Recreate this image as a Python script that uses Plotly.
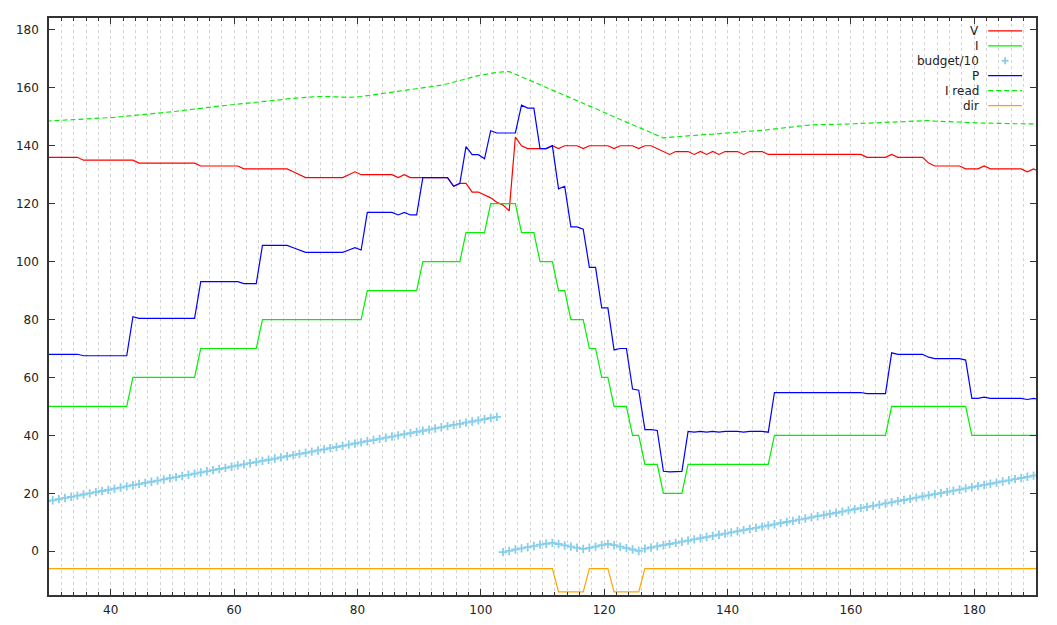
import plotly.graph_objects as go

# sample clock (one log sample per second, offset 0.6)
t = [n + 0.6 for n in range(29, 191)]

# V (volts) samples 29..190
V = [136,
     136, 136, 136, 136, 136, 135, 135, 135, 135, 135,
     135, 135, 135, 135, 134, 134, 134, 134, 134, 134,
     134, 134, 134, 134, 133, 133, 133, 133, 133, 133,
     133, 132, 132, 132, 132, 132, 132, 132, 132, 131,
     130, 129, 129, 129, 129, 129, 129, 129, 130, 131,
     130, 130, 130, 130, 130, 130, 129, 130, 129, 129,
     129, 129, 129, 129, 129, 126, 127, 127, 124, 124,
     123, 122, 120.5, 119.5, 117.5, 143, 140, 139, 139, 139,
     139, 140, 139, 140, 140, 140, 139, 140, 140, 140,
     140, 139, 140, 140, 140, 139, 140, 140, 139, 138,
     137, 138, 138, 138, 137, 138, 137, 138, 137, 138,
     138, 138, 137, 138, 138, 138, 137, 137, 137, 137,
     137, 137, 137, 137, 137, 137, 137, 137, 137, 137,
     137, 137, 136, 136, 136, 136, 137, 136, 136, 136,
     136, 136, 134, 133, 133, 133, 133, 133, 132, 132,
     132, 133, 132, 132, 132, 132, 132, 132, 131, 132,
     131]

# I (set current)
I = [50,
     50, 50, 50, 50, 50, 50, 50, 50, 50, 50,
     50, 50, 50, 60, 60, 60, 60, 60, 60, 60,
     60, 60, 60, 60, 70, 70, 70, 70, 70, 70,
     70, 70, 70, 70, 80, 80, 80, 80, 80, 80,
     80, 80, 80, 80, 80, 80, 80, 80, 80, 80,
     80, 90, 90, 90, 90, 90, 90, 90, 90, 90,
     100, 100, 100, 100, 100, 100, 100, 110, 110, 110,
     110, 120, 120, 120, 120, 120, 110, 110, 110, 100,
     100, 100, 90, 90, 80, 80, 80, 70, 70, 60,
     60, 50, 50, 50, 40, 40, 30, 30, 30, 20,
     20, 20, 20, 30, 30, 30, 30, 30, 30, 30,
     30, 30, 30, 30, 30, 30, 30, 40, 40, 40,
     40, 40, 40, 40, 40, 40, 40, 40, 40, 40,
     40, 40, 40, 40, 40, 40, 50, 50, 50, 50,
     50, 50, 50, 50, 50, 50, 50, 50, 50, 40,
     40, 40, 40, 40, 40, 40, 40, 40, 40, 40,
     40]

# budget/10
budget = [17.2,
          17.6, 18.0, 18.4, 18.8, 19.2, 19.6, 20.0, 20.4, 20.8, 21.2,
          21.6, 22.0, 22.4, 22.8, 23.2, 23.6, 24.0, 24.4, 24.8, 25.2,
          25.6, 26.0, 26.4, 26.8, 27.2, 27.6, 28.0, 28.4, 28.8, 29.2,
          29.6, 30.0, 30.4, 30.8, 31.2, 31.6, 32.0, 32.4, 32.8, 33.2,
          33.6, 34.0, 34.4, 34.8, 35.2, 35.6, 36.0, 36.4, 36.8, 37.2,
          37.6, 38.0, 38.4, 38.8, 39.2, 39.6, 40.0, 40.4, 40.8, 41.2,
          41.6, 42.0, 42.4, 42.8, 43.2, 43.6, 44.0, 44.4, 44.8, 45.2,
          45.6, 46.0, 46.4, -0.3, 0.1, 0.6, 1.0, 1.4, 1.8, 2.3,
          2.6, 2.9, 2.5, 2.0, 1.6, 1.2, 0.8, 1.2, 1.6, 2.1,
          2.5, 2.1, 1.6, 1.1, 0.6, 0.1, 0.9, 1.3, 1.7, 2.1,
          2.5, 2.9, 3.3, 3.7, 4.1, 4.5, 4.9, 5.3, 5.7, 6.1,
          6.5, 6.9, 7.3, 7.7, 8.1, 8.5, 8.9, 9.3, 9.7, 10.1,
          10.5, 10.9, 11.3, 11.7, 12.1, 12.5, 12.9, 13.3, 13.7, 14.1,
          14.5, 14.9, 15.3, 15.7, 16.1, 16.5, 16.9, 17.3, 17.7, 18.1,
          18.5, 18.9, 19.3, 19.7, 20.1, 20.5, 20.9, 21.3, 21.7, 22.1,
          22.5, 22.9, 23.3, 23.7, 24.1, 24.5, 24.9, 25.3, 25.7, 26.1,
          26.5]

# P (power)
P = [68,
     68, 68, 68, 68, 68, 67.5, 67.5, 67.5, 67.5, 67.5,
     67.5, 67.5, 67.5, 81, 80.4, 80.4, 80.4, 80.4, 80.4, 80.4,
     80.4, 80.4, 80.4, 80.4, 93.1, 93.1, 93.1, 93.1, 93.1, 93.1,
     93.1, 92.4, 92.4, 92.4, 105.6, 105.6, 105.6, 105.6, 105.6, 104.8,
     104, 103.2, 103.2, 103.2, 103.2, 103.2, 103.2, 103.2, 104, 104.8,
     104, 117, 117, 117, 117, 117, 116.1, 117, 116.1, 116.1,
     129, 129, 129, 129, 129, 126, 127, 139.7, 136.9, 136.9,
     135.5, 145.2, 144.4, 144.4, 144.4, 144.4, 154, 153, 153, 139,
     139, 140, 125.1, 126, 112, 112, 111.2, 98, 98, 84,
     84, 69.5, 70, 70, 56, 55.6, 42, 42, 41.7, 27.6,
     27.4, 27.6, 27.6, 41.4, 41.1, 41.4, 41.1, 41.4, 41.1, 41.4,
     41.4, 41.4, 41.1, 41.4, 41.4, 41.4, 41.1, 54.8, 54.8, 54.8,
     54.8, 54.8, 54.8, 54.8, 54.8, 54.8, 54.8, 54.8, 54.8, 54.8,
     54.8, 54.8, 54.4, 54.4, 54.4, 54.4, 68.5, 68, 68, 68,
     68, 68, 67, 66.5, 66.5, 66.5, 66.5, 66.5, 66, 52.8,
     52.8, 53.2, 52.8, 52.8, 52.8, 52.8, 52.8, 52.8, 52.4, 52.8,
     52.4]

# I read (measured current, smoothed)
I_read = [148.5,
          148.6, 148.7, 148.8, 148.9, 149.0, 149.2, 149.4, 149.5, 149.6, 149.7,
          149.8, 150.0, 150.2, 150.3, 150.5, 150.7, 150.9, 151.1, 151.4, 151.7,
          151.9, 152.1, 152.4, 152.7, 152.9, 153.1, 153.4, 153.7, 153.9, 154.1,
          154.3, 154.5, 154.8, 155.0, 155.2, 155.4, 155.7, 155.9, 156.2, 156.4,
          156.6, 156.8, 156.9, 157.0, 157.0, 157.0, 156.9, 156.8, 156.7, 156.8,
          157.0, 157.3, 157.6, 157.9, 158.1, 158.4, 158.7, 158.9, 159.2, 159.5,
          159.8, 160.1, 160.5, 160.9, 161.4, 162.0, 162.6, 163.2, 163.7, 164.2,
          164.6, 165.0, 165.3, 165.5, 165.6, 164.7, 163.8, 162.9, 161.9, 161.0,
          160.1, 159.2, 158.3, 157.4, 156.4, 155.5, 154.6, 153.7, 152.8, 151.9,
          150.9, 150.0, 149.1, 148.2, 147.3, 146.4, 145.4, 144.5, 143.6, 142.7,
          142.9, 143.1, 143.3, 143.4, 143.6, 143.7, 143.9, 144.0, 144.2, 144.3,
          144.5, 144.7, 144.8, 145.0, 145.2, 145.3, 145.5, 145.7, 145.9, 146.2,
          146.5, 146.8, 147.1, 147.2, 147.3, 147.3, 147.4, 147.4, 147.5, 147.5,
          147.6, 147.7, 147.8, 147.9, 148.0, 148.1, 148.2, 148.3, 148.4, 148.5,
          148.7, 148.8, 148.7, 148.5, 148.4, 148.2, 148.1, 148.0, 147.9, 147.9,
          147.8, 147.8, 147.8, 147.7, 147.7, 147.7, 147.6, 147.6, 147.6, 147.6,
          147.5]

# dir
dir_ = [-6,
        -6, -6, -6, -6, -6, -6, -6, -6, -6, -6,
        -6, -6, -6, -6, -6, -6, -6, -6, -6, -6,
        -6, -6, -6, -6, -6, -6, -6, -6, -6, -6,
        -6, -6, -6, -6, -6, -6, -6, -6, -6, -6,
        -6, -6, -6, -6, -6, -6, -6, -6, -6, -6,
        -6, -6, -6, -6, -6, -6, -6, -6, -6, -6,
        -6, -6, -6, -6, -6, -6, -6, -6, -6, -6,
        -6, -6, -6, -6, -6, -6, -6, -6, -6, -6,
        -6, -6, -14, -14, -14, -14, -14, -6, -6, -6,
        -6, -14, -14, -14, -14, -14, -6, -6, -6, -6,
        -6, -6, -6, -6, -6, -6, -6, -6, -6, -6,
        -6, -6, -6, -6, -6, -6, -6, -6, -6, -6,
        -6, -6, -6, -6, -6, -6, -6, -6, -6, -6,
        -6, -6, -6, -6, -6, -6, -6, -6, -6, -6,
        -6, -6, -6, -6, -6, -6, -6, -6, -6, -6,
        -6, -6, -6, -6, -6, -6, -6, -6, -6, -6,
        -6]

labels = ['V', 'I', 'budget/10', 'P', 'I read', 'dir']
colors = ['#ff0000', '#00f000', '#87ceeb', '#0000ff', '#00f000', '#ffa500']

FONT = dict(family='DejaVu Sans', size=12, color='#222222')
# page body keeps its default 8px margin, so the figure is 8px smaller
OFF = 8
W, H = 1057 - OFF, 625 - OFF
ML, MR, MT, MB = 46 - OFF, 21, 16 - OFF, 29

fig = go.Figure()
fig.add_trace(go.Scatter(x=t, y=V, mode='lines', line=dict(color=colors[0], width=1.2)))
fig.add_trace(go.Scatter(x=t, y=I, mode='lines', line=dict(color=colors[1], width=1.2)))
fig.add_trace(go.Scatter(x=t, y=budget, mode='markers',
                         marker=dict(symbol='cross-thin', size=6, color=colors[2],
                                     line=dict(color=colors[2], width=1.8))))
fig.add_trace(go.Scatter(x=t, y=P, mode='lines', line=dict(color=colors[3], width=1.2)))
fig.add_trace(go.Scatter(x=t, y=I_read, mode='lines', line=dict(color=colors[4], width=1.2, dash='5px,3px')))
fig.add_trace(go.Scatter(x=t, y=dir_, mode='lines', line=dict(color=colors[5], width=1.2)))


# gnuplot style key: label on the left, sample on the right (window pixels)
def px_x(p):
    return (p - OFF - ML) / (W - ML - MR)


def px_y(p):
    return (H + OFF - MB - p) / (H - MT - MB)


shapes = []
annotations = []
for k, name in enumerate(labels):
    yy = px_y(29 + 15 * k)
    annotations.append(dict(x=px_x(981), y=yy, xref='paper', yref='paper', text=name,
                            showarrow=False, xanchor='right', yanchor='middle', font=FONT))
    if name == 'budget/10':
        shapes.append(dict(type='line', xref='paper', yref='paper',
                           x0=px_x(1001.5), x1=px_x(1008.5), y0=yy, y1=yy,
                           line=dict(color=colors[k], width=1.8)))
        shapes.append(dict(type='line', xref='paper', yref='paper',
                           x0=px_x(1005), x1=px_x(1005), y0=yy - 3.5 / (H - MT - MB),
                           y1=yy + 3.5 / (H - MT - MB), line=dict(color=colors[k], width=1.8)))
    else:
        shapes.append(dict(type='line', xref='paper', yref='paper',
                           x0=px_x(988), x1=px_x(1022), y0=yy, y1=yy,
                           line=dict(color=colors[k], width=1.2,
                                     dash='5px,3px' if name == 'I read' else 'solid')))

fig.update_layout(width=W, height=H, margin=dict(l=ML, r=MR, t=MT, b=MB),
                  paper_bgcolor='white', plot_bgcolor='white', showlegend=False,
                  font=FONT, shapes=shapes, annotations=annotations)

fig.update_xaxes(range=[30, 190], dtick=20, tick0=0, ticks='inside', ticklen=6,
                 tickcolor='#333333', showline=True, linecolor='#333333', linewidth=1.5,
                 mirror='allticks', zeroline=False, showgrid=True, griddash='dot',
                 gridcolor='#d4d4d4', gridwidth=1, ticklabelstandoff=3,
                 minor=dict(dtick=2, ticks='inside', ticklen=3, tickcolor='#333333',
                            showgrid=True, griddash='dot', gridcolor='#d4d4d4', gridwidth=1))
fig.update_yaxes(range=[-15.1, 184.1], dtick=20, tick0=0, ticks='inside', ticklen=6,
                 tickcolor='#333333', showline=True, linecolor='#333333', linewidth=1.5,
                 mirror='allticks', zeroline=False, showgrid=False, ticklabelstandoff=6)

fig.write_html("out.html")
